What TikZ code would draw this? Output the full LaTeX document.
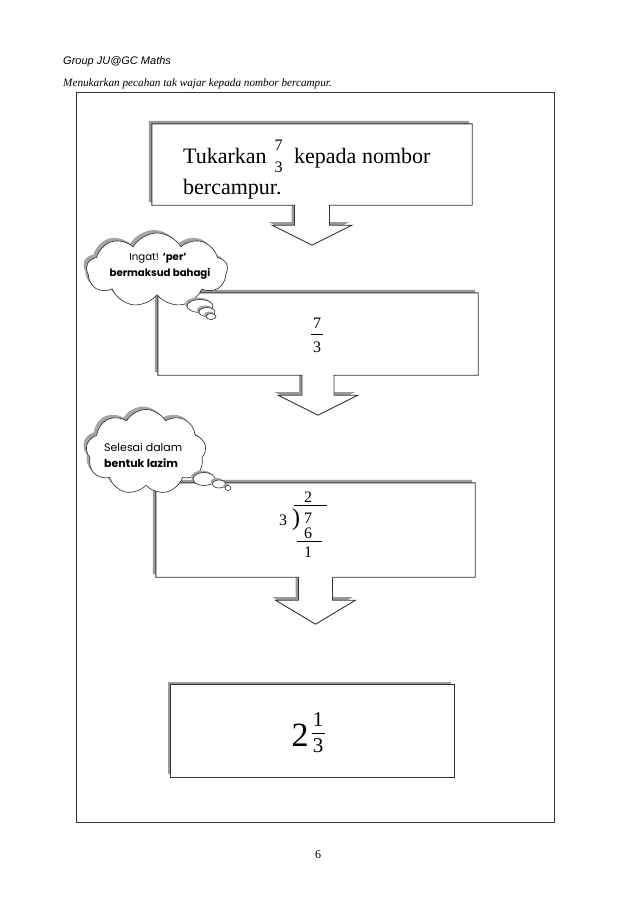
\documentclass[tikz,border=0pt]{standalone}
\usepackage{fontspec}
\setmainfont{Liberation Serif}
\setsansfont{Liberation Sans}
\newfontfamily\cloudfont{Poppins}
\usetikzlibrary{positioning, shapes.symbols, shapes.geometric, shadows, backgrounds, calc}

\tikzset{
  boxline/.style={draw=black!80, line width=0.9pt, fill=white,
    drop shadow={shadow xshift=-3pt, shadow yshift=3pt, fill=black!40, opacity=1}},
  boxspot/.style={rectangle, inner sep=0pt},
  thought/.style={cloud, cloud puffs=9, cloud puff arc=120, aspect=1.9,
    draw=black!85, fill=white, line width=0.6pt, inner sep=0pt,
    drop shadow={shadow xshift=-3pt, shadow yshift=3pt, fill=black!35, opacity=1}},
  bubble/.style={ellipse, draw=black!85, fill=white, line width=0.6pt, inner sep=0pt,
    drop shadow={shadow xshift=-2pt, shadow yshift=2pt, fill=black!35, opacity=1}},
  boxtext/.style={font=\fontsize{22}{28}\selectfont, inner sep=0pt, anchor=base west},
  digit/.style={font=\fontsize{16}{18}\selectfont, inner sep=0pt},
  cloudtext/.style={font=\cloudfont\fontsize{11}{15}\selectfont, inner sep=0pt},
}

% box with a down arrow: name, stem half width, stem length, wing half width, head length
\newcommand{\arrowbox}[5]{%
  \draw[boxline] (#1.north west) -- (#1.north east) -- (#1.south east)
    -- ($(#1.south)+(#2,0)$) -- ($(#1.south)+(#2,#3)$) -- ($(#1.south)+(#4,#3)$)
    -- ($(#1.south)+(0,#3+#5)$) -- ($(#1.south)+(-#4,#3)$) -- ($(#1.south)+(-#2,#3)$)
    -- ($(#1.south)+(-#2,0)$) -- (#1.south west) -- cycle;}

\begin{document}
\begin{tikzpicture}[x=1pt,y=-1pt]
\useasboundingbox (0,0) rectangle (638,902);

% page header
\node[anchor=base west, inner sep=0pt, font=\sffamily\itshape\fontsize{11}{13}\selectfont] (hdr) at (63,64) {Group JU@GC Maths};
\node[anchor=base west, inner sep=0pt, font=\itshape\fontsize{11.2}{13}\selectfont] (ttl) at (63,86) {Menukarkan pecahan tak wajar kepada nombor bercampur.};
\draw[draw=black!80, line width=0.9pt] (76,92) rectangle (554,822);

% the four steps
\node[boxspot, minimum width=320, minimum height=81] (q1) at (312,164.5) {};
\node[boxspot, minimum width=320, minimum height=82] (q2) at (318,334) {};
\node[boxspot, minimum width=319, minimum height=94] (q3) at (315.5,530) {};
\node[boxspot, minimum width=283, minimum height=92] (q4) at (312.5,731) {};
\begin{scope}[on background layer]
\arrowbox{q1}{17.5}{20}{40}{20}
\arrowbox{q2}{16}{20}{40}{20}
\arrowbox{q3}{17}{23}{40}{24}
\draw[boxline] (q4.north west) rectangle (q4.south east);
\end{scope}

% step 1
\node[boxtext] (t1a) at (183,163) {Tukarkan};
\node[digit, font=\fontsize{16}{18}\selectfont] (f1n) at (278.5,145) {7};
\node[digit, font=\fontsize{16}{18}\selectfont] (f1d) at (278.5,167) {3};
\node[boxtext] (t1b) at (294,163) {kepada nombor};
\node[boxtext] (t1c) at ($(t1a.base west)+(0,31)$) {bercampur.};

% step 2
\node[digit] (f2n) at (317,323) {7};
\node[digit] (f2d) at (317,347) {3};
\draw[line width=0.6pt] (311,334) -- (323,334);

% step 3: long division
\node[digit] (dq) at (308,497) {2};
\node[digit] (dd) at (283,520) {3};
\node[digit, font=\fontsize{24}{26}\selectfont] (dp) at (296,520) {)};
\node[digit] (dn) at (308,518) {7};
\node[digit] (ds) at (308,533) {6};
\node[digit] (dr) at (308,552) {1};
\draw[line width=0.7pt] (294,505) -- (327,505);
\draw[line width=0.7pt] (297,541) -- (322,541);

% step 4
\node[digit, font=\fontsize{34}{36}\selectfont] (mw) at (300,735) {2};
\node[digit, font=\fontsize{21}{23}\selectfont] (mn) at (318,720) {1};
\node[digit, font=\fontsize{21}{23}\selectfont] (md) at (318,746) {3};
\draw[line width=0.6pt] (312,733) -- (325,733);

% thought clouds
\node[thought, minimum width=141, minimum height=74] (c1) at (157,270) {};
\node[bubble, minimum width=26, minimum height=13] (c1a) at (200,306) {};
\node[bubble, minimum width=16, minimum height=9] (c1b) at (207,312) {};
\node[bubble, minimum width=10, minimum height=6] (c1c) at (211,316.5) {};
\node[cloudtext, anchor=base, font=\cloudfont\fontsize{10.2}{14}\selectfont] (c1t) at (158,260) {Ingat! \textbf{‘per’}};
\node[cloudtext, anchor=base, font=\cloudfont\fontsize{10.2}{14}\selectfont] (c1u) at (160,276) {\textbf{bermaksud bahagi}};

\node[thought, minimum width=120, minimum height=85] (c2) at (146,452) {};
\node[bubble, minimum width=22, minimum height=13] (c2a) at (204,479) {};
\node[bubble, minimum width=13, minimum height=8] (c2b) at (219,484) {};
\node[bubble, minimum width=6, minimum height=5] (c2c) at (228,488) {};
\node[cloudtext, anchor=base west] (c2t) at (104,451) {Selesai dalam};
\node[cloudtext, anchor=base west] (c2u) at (104,467) {\textbf{bentuk lazim}};

% page number
\node[inner sep=0pt, font=\fontsize{12}{14}\selectfont] (pg) at (318,855) {6};
\end{tikzpicture}
\end{document}
